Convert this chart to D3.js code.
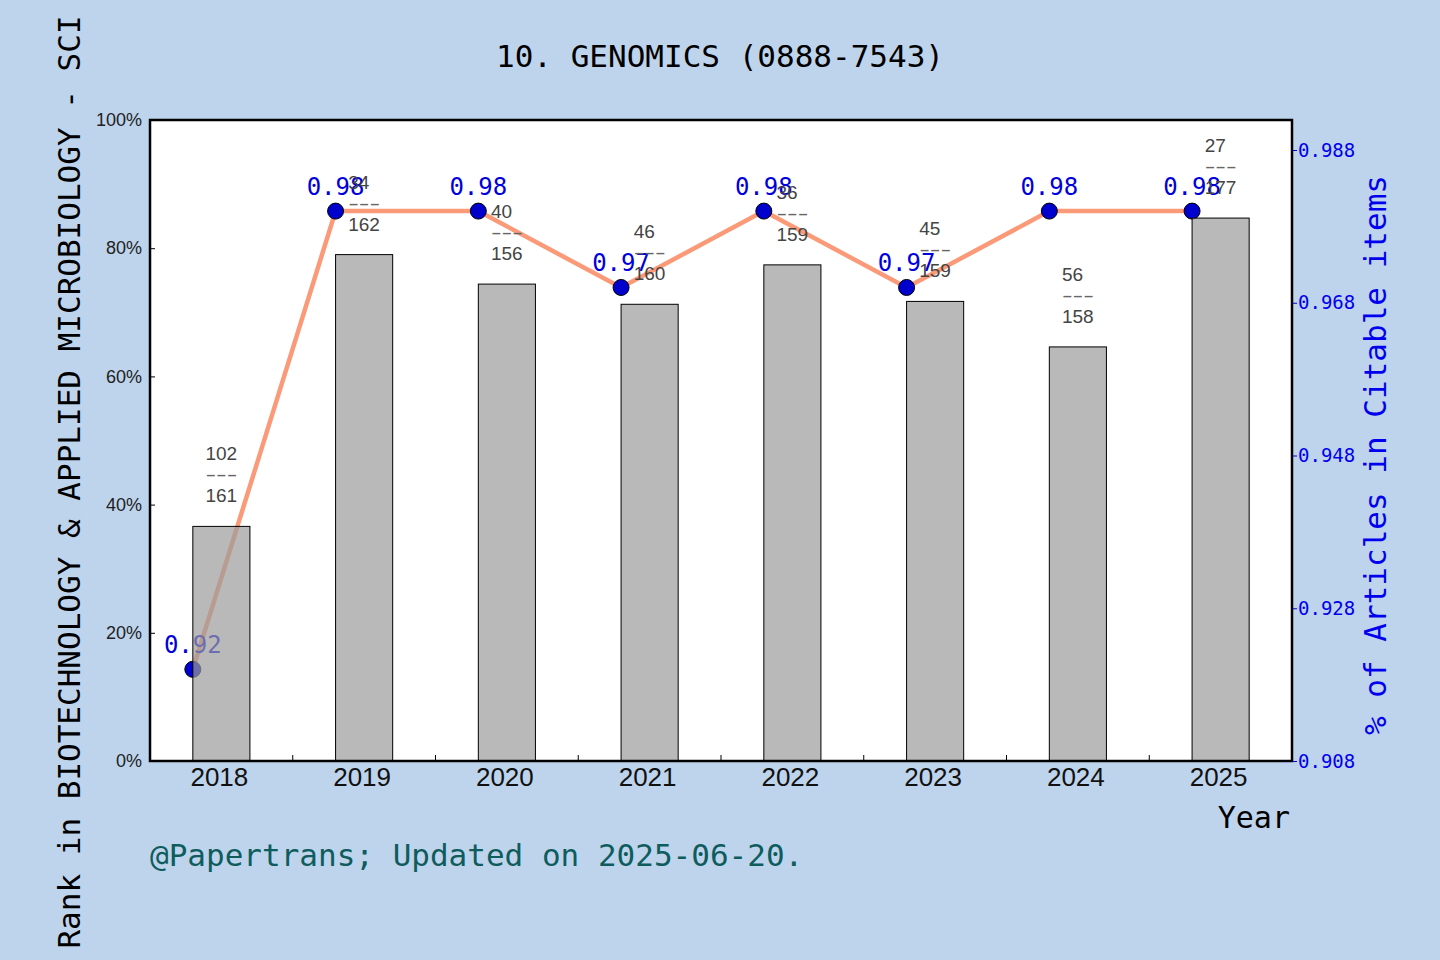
<!DOCTYPE html>
<html>
<head>
<meta charset="utf-8">
<script src="https://cdn.jsdelivr.net/npm/d3@7"></script>
<style>
  body { margin: 0; background: #bed4ed; }
  svg { display: block; }
</style>
</head>
<body>
<div id="chart"></div>
<script>
var years = ["2018", "2019", "2020", "2021", "2022", "2023", "2024", "2025"];
var ranks = [102, 34, 40, 46, 36, 45, 56, 27];
var totals = [161, 162, 156, 160, 159, 159, 158, 177];
var rankPct = [0.366, 0.790, 0.744, 0.7125, 0.774, 0.717, 0.646, 0.847];
var citable = [0.92, 0.98, 0.98, 0.97, 0.98, 0.97, 0.98, 0.98];
var leftTicks = [0, 0.2, 0.4, 0.6, 0.8, 1.0];
var rightTicks = [0.908, 0.928, 0.948, 0.968, 0.988];

var W = 1440, H = 960;
var plot = { left: 150, right: 1292, top: 120, bottom: 761 };
var mono = "'DejaVu Sans Mono', monospace";
var sans = "'Liberation Sans', Arial, sans-serif";

var svg = d3.select("#chart").append("svg")
    .attr("width", W)
    .attr("height", H);

svg.append("rect")
    .attr("width", W).attr("height", H)
    .attr("fill", "#bed4ed");

svg.append("rect")
    .attr("x", plot.left).attr("y", plot.top)
    .attr("width", plot.right - plot.left)
    .attr("height", plot.bottom - plot.top)
    .attr("fill", "white");

var x = d3.scaleBand()
    .domain(years)
    .range([plot.left, plot.right])
    .padding(0);

var y = d3.scaleLinear()
    .domain([0, 1])
    .range([plot.bottom, plot.top]);

var y2 = d3.scaleLinear()
    .domain([0.908, 0.988])
    .range([plot.bottom, 150]);

var bw = x.bandwidth();

// left axis, ticks pointing inside
var gl = svg.append("g")
    .attr("transform", "translate(" + plot.left + ",0)")
    .call(d3.axisLeft(y).tickValues(leftTicks).tickSize(-5).tickPadding(8)
        .tickFormat(d3.format(".0%")));
gl.select(".domain").remove();
gl.selectAll("text").style("font-family", sans).style("font-size", "18px").attr("fill", "#222");

// right axis
var gr = svg.append("g")
    .attr("transform", "translate(" + plot.right + ",0)")
    .call(d3.axisRight(y2).tickValues(rightTicks).tickSize(5).tickPadding(1)
        .tickFormat(d3.format(".3f")));
gr.select(".domain").remove();
gr.selectAll("line").attr("stroke", "#0000ee");
gr.selectAll("text").style("font-family", mono).style("font-size", "19px").attr("fill", "#0000ee");

// bottom axis, minor ticks between categories
var gb = svg.append("g")
    .attr("transform", "translate(-2," + plot.bottom + ")")
    .call(d3.axisBottom(x).tickSize(0).tickPadding(7));
gb.select(".domain").remove();
gb.selectAll("text").style("font-family", sans).style("font-size", "26px").attr("fill", "#111");

svg.append("g")
    .selectAll("line")
    .data(years.slice(1))
    .enter().append("line")
    .attr("x1", d => x(d)).attr("x2", d => x(d))
    .attr("y1", plot.bottom).attr("y2", plot.bottom - 6)
    .attr("stroke", "black");

// citable line
var line = d3.line()
    .x((d, i) => x(years[i]) + bw * 0.3)
    .y(d => y2(d));

svg.append("path")
    .datum(citable)
    .attr("d", line)
    .attr("fill", "none")
    .attr("stroke", "#fa9a78")
    .attr("stroke-width", 4.5);

svg.append("g")
    .selectAll("circle")
    .data(citable)
    .enter().append("circle")
    .attr("cx", (d, i) => x(years[i]) + bw * 0.3)
    .attr("cy", d => y2(d))
    .attr("r", 8)
    .attr("fill", "#0000cd")
    .attr("stroke", "black")
    .attr("stroke-width", 1);

svg.append("g")
    .selectAll("text")
    .data(citable)
    .enter().append("text")
    .attr("x", (d, i) => x(years[i]) + bw * 0.3)
    .attr("y", d => y2(d) - 16)
    .attr("text-anchor", "middle")
    .style("font-family", mono)
    .style("font-size", "24px")
    .attr("fill", "#0000dd")
    .text(d => d.toFixed(2));

// bars drawn over the line, semi transparent
svg.append("g")
    .selectAll("rect")
    .data(rankPct)
    .enter().append("rect")
    .attr("x", (d, i) => x(years[i]) + bw * 0.3)
    .attr("y", d => y(d))
    .attr("width", bw * 0.4)
    .attr("height", d => plot.bottom - y(d))
    .attr("fill", "#9b9b9b")
    .attr("fill-opacity", 0.7)
    .attr("stroke", "black")
    .attr("stroke-width", 1);

// rank labels: block centred on the bar, lines left aligned
rankPct.forEach(function (d, i) {
    var cx = x(years[i]) + bw / 2;
    var g = svg.append("g").attr("fill", "#444");
    var top = g.append("text").attr("y", y(d) - 66)
        .style("font-family", sans).style("font-size", "19px").text(ranks[i]);
    var bot = g.append("text").attr("y", y(d) - 24)
        .style("font-family", sans).style("font-size", "19px").text(totals[i]);
    var w = Math.max(top.node().getComputedTextLength(),
        bot.node().getComputedTextLength());
    g.append("text").attr("y", y(d) - 45)
        .style("font-family", sans).style("font-size", "19px")
        .attr("fill", "#666")
        .attr("textLength", 32).attr("lengthAdjust", "spacingAndGlyphs")
        .text("---");
    w = Math.max(w, 32);
    g.selectAll("text").attr("x", cx - w / 2);
});

// frame
svg.append("rect")
    .attr("x", plot.left).attr("y", plot.top)
    .attr("width", plot.right - plot.left)
    .attr("height", plot.bottom - plot.top)
    .attr("fill", "none")
    .attr("stroke", "black")
    .attr("stroke-width", 2.5);

// titles
svg.append("text")
    .attr("x", 720).attr("y", 67)
    .attr("text-anchor", "middle")
    .style("font-family", mono).style("font-size", "31px")
    .attr("fill", "black")
    .text("10. GENOMICS (0888-7543)");

svg.append("text")
    .attr("transform", "translate(80,482) rotate(-90)")
    .attr("text-anchor", "middle")
    .style("font-family", mono).style("font-size", "31px")
    .attr("fill", "black")
    .text("Rank in BIOTECHNOLOGY & APPLIED MICROBIOLOGY - SCI");

svg.append("text")
    .attr("transform", "translate(1386,455) rotate(-90)")
    .attr("text-anchor", "middle")
    .style("font-family", mono).style("font-size", "31px")
    .attr("fill", "#0000ee")
    .text("% of Articles in Citable items");

svg.append("text")
    .attr("x", 1290).attr("y", 828)
    .attr("text-anchor", "end")
    .style("font-family", mono).style("font-size", "30px")
    .attr("fill", "black")
    .text("Year");

svg.append("text")
    .attr("x", 150).attr("y", 866)
    .style("font-family", mono).style("font-size", "31px")
    .attr("fill", "#0e5c5c")
    .text("@Papertrans; Updated on 2025-06-20.");
</script>
</body>
</html>
